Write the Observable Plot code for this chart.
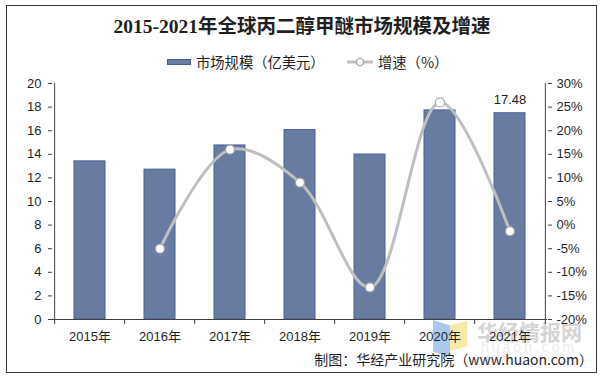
<!DOCTYPE html>
<html><head><meta charset="utf-8">
<script src="https://cdn.jsdelivr.net/npm/d3@7"></script>
<script src="https://cdn.jsdelivr.net/npm/@observablehq/plot@0.6"></script>
<style>
body{margin:0;background:#fff;}
#wrap{position:relative;width:604px;height:380px;overflow:hidden;font-family:"Liberation Sans","Noto Sans CJK SC",sans-serif;color:#1f1f1f;background:#fff;}
#border{position:absolute;left:6px;top:5px;width:589px;height:366px;border:1px solid #3a3a3a;}
#title{position:absolute;left:0;top:15px;width:604px;text-align:center;line-height:24px;font-weight:bold;font-size:19.5px;font-family:"Liberation Serif","Noto Sans CJK SC",serif;white-space:nowrap;}
.leg{position:absolute;top:53px;height:18px;line-height:18px;font-size:14.3px;font-family:"Noto Sans CJK SC",sans-serif;white-space:nowrap;}
#chart{position:absolute;left:0;top:72px;}
#caption{position:absolute;right:11px;top:350px;line-height:18px;font-size:14px;font-family:"Noto Sans CJK SC","Liberation Sans",sans-serif;white-space:nowrap;}
#wm{position:absolute;left:477px;top:319px;font-size:21px;font-weight:bold;color:#d4d4d4;line-height:24px;font-family:"Noto Sans CJK SC",sans-serif;white-space:nowrap;}
#wm2{position:absolute;left:481px;top:339px;font-size:14px;color:#ececec;letter-spacing:3px;line-height:16px;white-space:nowrap;}
#sb{position:absolute;left:433px;top:320px;width:17px;height:37px;background:#aac9f0;clip-path:polygon(0 0,100% 15%,100% 100%,0 85%);}
#sy{position:absolute;left:450px;top:321px;width:17px;height:30px;background:#f6e8a8;clip-path:polygon(0 15%,100% 0,100% 85%,0 100%);}
</style></head>
<body>
<div id="wrap">
  <div id="sb"></div><div id="sy"></div>
  <div id="wm">华经情报网</div>
  <div id="wm2">huaon.com</div>
  <div id="border"></div>
  <div id="title"></div>
  <div class="leg" id="leg1" style="left:167px;"></div>
  <div class="leg" id="leg2" style="left:347px;"></div>
  <div id="chart"></div>
  <div id="caption"></div>
</div>
<script>
// ---- data ----
const titleText = "2015-2021年全球丙二醇甲醚市场规模及增速";
const years = ["2015年","2016年","2017年","2018年","2019年","2020年","2021年"];
const marketSize = [13.4, 12.7, 14.75, 16.05, 13.98, 17.72, 17.48];   // 亿美元
const growthPct = [null, -5.0, 16.0, 9.0, -13.2, 26.0, -1.3];        // %
const leftTicks = [0,2,4,6,8,10,12,14,16,18,20];
const rightTicks = [-20,-15,-10,-5,0,5,10,15,20,25,30];
const seriesNames = ["市场规模（亿美元）","增速（%）"];
const labelYear = "2021年";
const captionText = "制图：华经产业研究院（www.huaon.com）";

// ---- styles ----
const barFill = "#687ba1", barStroke = "#46619a", lineColor = "#bfbfbf", axisColor = "#404040";

document.getElementById("title").textContent = titleText;
document.getElementById("caption").textContent = captionText;
document.getElementById("leg1").innerHTML =
  `<svg width="24" height="18" style="vertical-align:top"><rect x="0.5" y="6.5" width="23" height="5" fill="${barFill}" stroke="${barStroke}"/></svg><span style="margin-left:5px">${seriesNames[0]}</span>`;
document.getElementById("leg2").innerHTML =
  `<svg width="26" height="18" style="vertical-align:top"><line x1="0" x2="26" y1="9" y2="9" stroke="${lineColor}" stroke-width="3"/><circle cx="13" cy="9" r="3.5" fill="#fff" stroke="#a6a6a6" stroke-width="1.2"/></svg><span style="margin-left:5px">${seriesNames[1]}</span>`;

const rows = years.map((y,i)=>({year:y, market:marketSize[i], growth:growthPct[i]}));
const growthRows = rows.filter(d=>d.growth!=null);

const leftMax = 20, pMin = -20, pMax = 30;
const toLeft = p => (p - pMin) / (pMax - pMin) * leftMax;
const fromLeft = v => v / leftMax * (pMax - pMin) + pMin;

const W = 604, H = 275, ML = 52, MR = 57, MT = 11, MB = 28;
const step = (W - ML - MR) / years.length;

const chart = Plot.plot({
  width: W, height: H,
  marginLeft: ML, marginRight: MR, marginTop: MT, marginBottom: MB,
  style: {fontFamily: '"Liberation Sans","Noto Sans CJK SC",sans-serif', fontSize: "13px", color: "#1f1f1f", background: "transparent", overflow: "visible"},
  x: {domain: years, paddingInner: 0.555, paddingOuter: 0.2775, axis: null},
  y: {domain: [0, leftMax], axis: null},
  marks: [
    Plot.barY(rows, {x: "year", y: "market", fill: barFill, stroke: barStroke, strokeWidth: 1}),
    Plot.ruleY([0], {stroke: axisColor}),
    Plot.ruleX([years[0]], {dx: -step/2, stroke: axisColor}),
    Plot.ruleX([years[years.length-1]], {dx: step/2, stroke: axisColor}),
    Plot.axisY(leftTicks, {anchor: "left", tickSize: 4, tickPadding: 7, label: null, stroke: axisColor}),
    Plot.axisY(rightTicks.map(toLeft), {anchor: "right", tickSize: 4, tickPadding: 5, label: null, stroke: axisColor,
      tickFormat: v => Math.round(fromLeft(v)) + "%"}),
    Plot.axisX(years, {anchor: "bottom", tickSize: 0, tickPadding: 12, label: null}),
    Plot.axisX(years, {anchor: "bottom", tickSize: 5, dx: -step/2, tickFormat: () => "", label: null, stroke: axisColor}),
    Plot.axisX([years[years.length-1]], {anchor: "bottom", tickSize: 5, dx: step/2, tickFormat: () => "", label: null, stroke: axisColor}),
    Plot.line(growthRows, {x: "year", y: d => toLeft(d.growth), stroke: lineColor, strokeWidth: 3, curve: "catmull-rom"}),
    Plot.dot(growthRows, {x: "year", y: d => toLeft(d.growth), r: 4.5, fill: "#fff", stroke: "#a6a6a6", strokeWidth: 1.2}),
    Plot.text(rows.filter(d => d.year === labelYear), {x: "year", y: "market", text: d => d.market.toFixed(2), dy: -13, fontSize: 13, fill: "#1f1f1f"})
  ]
});
document.getElementById("chart").appendChild(chart);
</script>
</body></html>
